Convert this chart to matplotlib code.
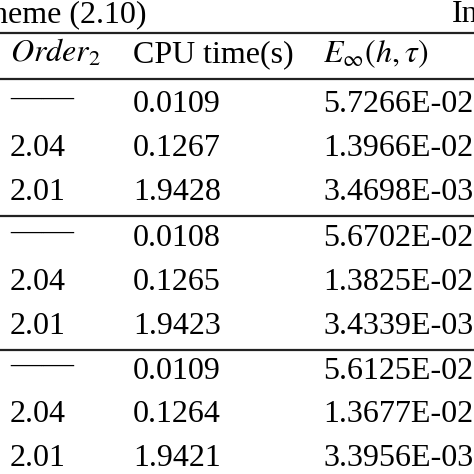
import matplotlib.pyplot as plt

plt.rcParams['font.family'] = ['Liberation Serif', 'DejaVu Serif']
plt.rcParams['mathtext.fontset'] = 'stix'

# Table data
headers = ['$Order_2$', 'CPU time(s)', r'$E_\infty(h,\tau)$']
order2 = ['——', '2.04', '2.01', '——', '2.04', '2.01', '——', '2.04', '2.01']
cpu = ['0.0109', '0.1267', '1.9428', '0.0108', '0.1265', '1.9423',
       '0.0109', '0.1264', '1.9421']
err = ['5.7266E-02', '1.3966E-02', '3.4698E-03', '5.6702E-02', '1.3825E-02',
       '3.4339E-03', '5.6125E-02', '1.3677E-02', '3.3956E-03']

fig = plt.figure(figsize=(4.74, 4.74), dpi=100)
ax = fig.add_axes([0, 0, 1, 1])
ax.set_xlim(0, 474)
ax.set_ylim(474, 0)
ax.axis('off')

fs = 23
col_x = [10, 133, 323]
off = 9  # baseline offset below row centre

ax.text(-8, 13 + off, 'heme (2.10)', fontsize=fs, va='baseline')
ax.text(452, 13 + off, 'In', fontsize=fs, va='baseline')

for y in [33, 79, 216, 350]:
    ax.axhline(y, color='#222222', lw=1.6)

for x, h in zip(col_x, headers):
    ax.text(x, 53 + off, h, fontsize=fs, va='baseline')

row_y = [103, 147, 191, 237, 281, 325, 370, 413, 457]
for i, y in enumerate(row_y):
    dash = order2[i] == '——'
    ax.text(col_x[0], y + (3 if dash else off), order2[i], fontsize=fs,
            va='baseline', transform=ax.transData)
    ax.text(col_x[1], y + off, cpu[i], fontsize=fs, va='baseline')
    ax.text(col_x[2], y + off, err[i], fontsize=fs, va='baseline')

fig.savefig('out.png', dpi=100)
